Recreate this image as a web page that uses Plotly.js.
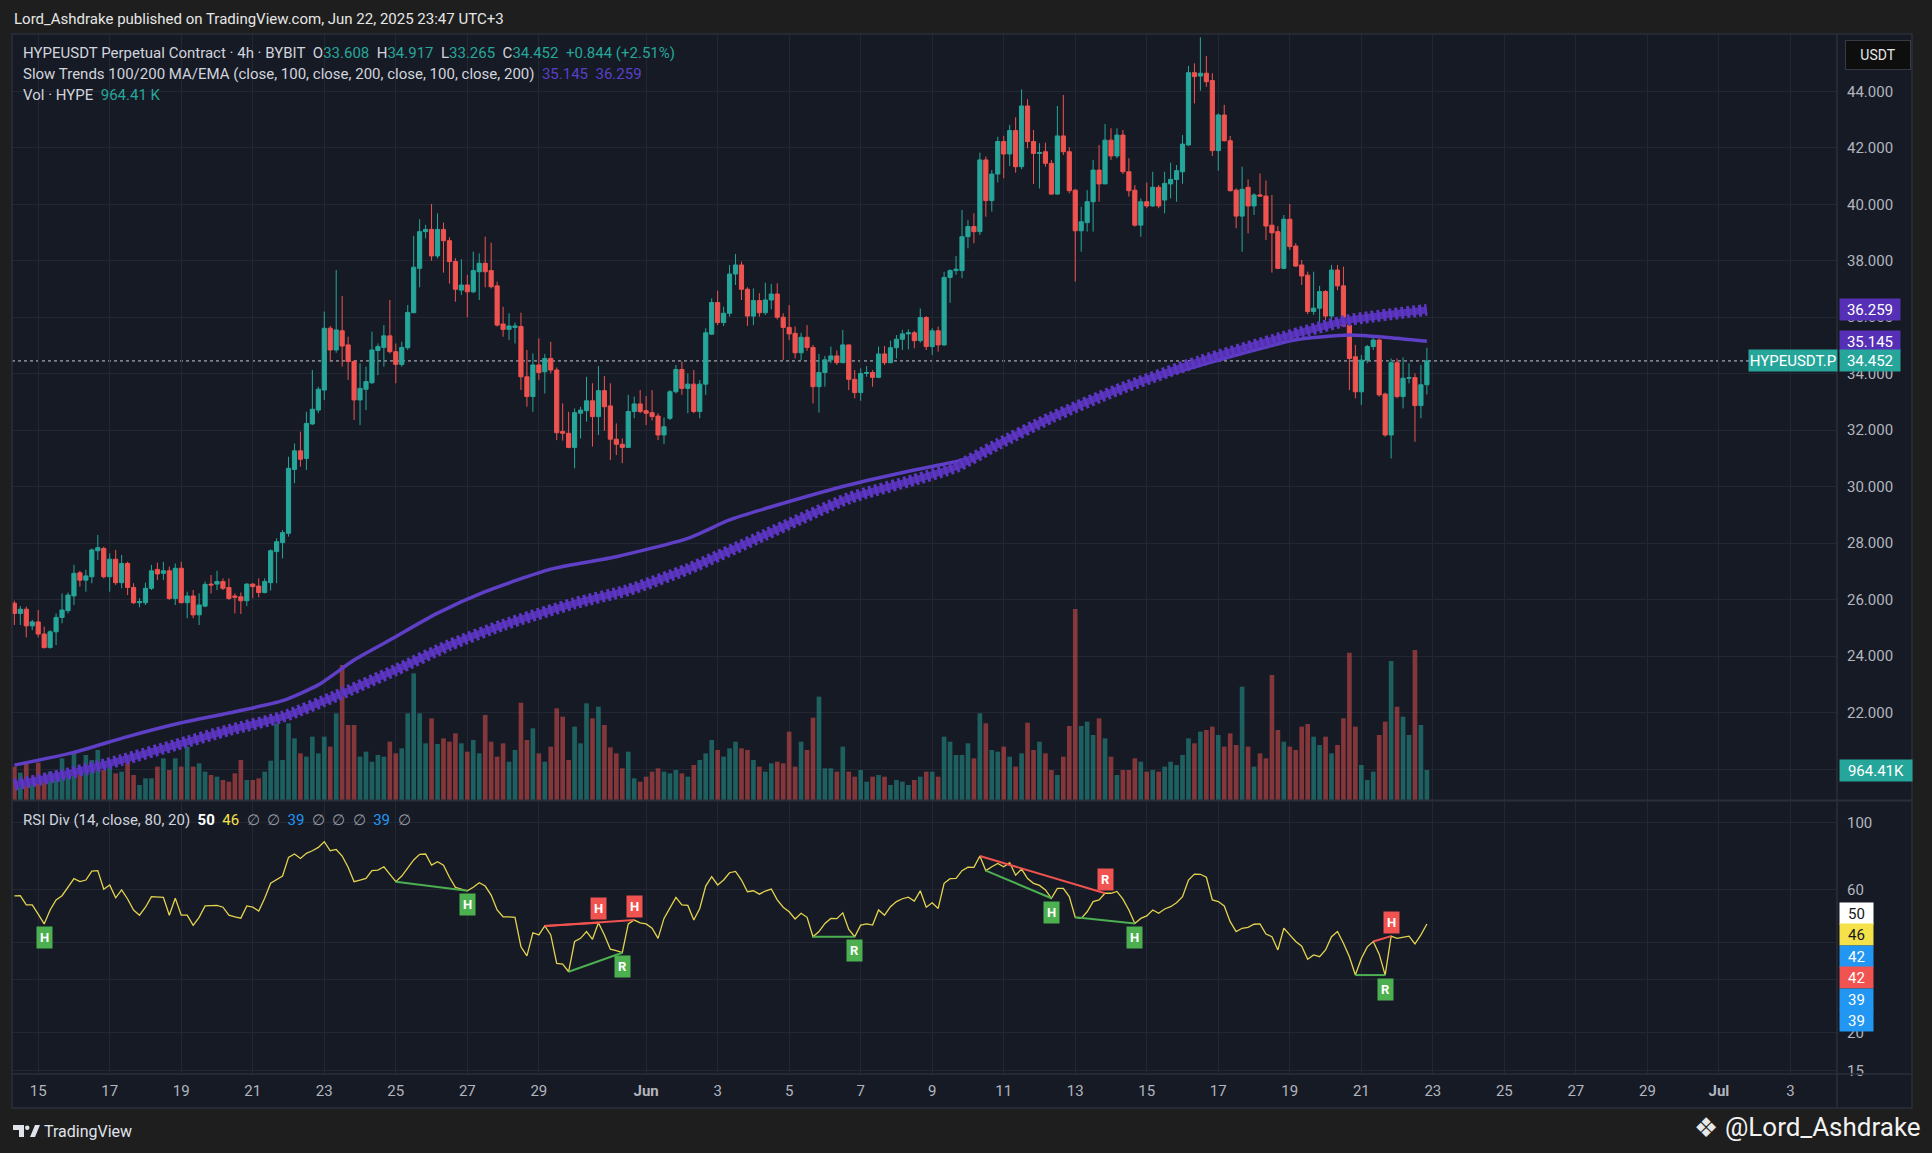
<!DOCTYPE html>
<html><head><meta charset="utf-8">
<script src="https://cdn.plot.ly/plotly-3.0.1.min.js"></script>
<style>html,body{margin:0;padding:0;background:#1e1e1e;}#chart{width:1932px;height:1153px;}</style>
</head><body><div id="chart"></div>
<script>
// ================= DATA =================
const symbol = 'HYPEUSDT';
const firstBarUTC = Date.UTC(2025, 4, 14, 8, 0, 0);
const barHours = 4;

const open = [
25.87,25.51,25.66,25.07,25.21,24.78,24.30,24.86,25.37,25.61,
26.13,26.95,26.69,26.81,27.73,27.81,26.81,27.43,26.60,27.28,
26.43,25.89,25.89,26.40,27.07,26.93,27.02,26.04,27.11,25.89,
26.13,25.46,25.77,26.55,26.55,26.64,26.43,26.13,26.10,25.96,
26.55,26.48,26.25,26.60,27.70,28.02,28.35,30.61,31.27,31.00,
32.22,32.71,33.42,35.61,34.84,35.52,35.02,34.43,33.07,33.45,
33.68,34.82,34.93,35.34,34.78,34.33,34.92,36.16,37.73,39.03,
39.11,38.17,39.11,38.71,37.97,36.96,37.14,36.90,37.61,37.91,
37.65,37.11,35.76,35.57,35.64,35.67,33.89,33.19,34.31,34.07,
34.54,34.13,31.95,31.89,31.39,32.60,32.69,33.04,32.48,33.40,
32.86,31.68,31.50,31.39,32.66,32.93,32.69,32.62,32.50,31.83,
32.42,33.36,34.15,33.48,33.63,32.66,33.63,35.40,36.52,35.81,
36.14,37.53,37.85,36.99,36.04,36.59,36.16,36.61,36.82,36.00,
35.64,35.43,34.74,35.29,34.93,33.54,34.04,34.49,34.63,34.39,
35.02,33.80,33.33,34.01,34.04,33.87,34.70,34.39,34.92,35.22,
35.41,35.45,35.17,35.99,34.96,35.52,35.02,37.41,37.65,37.65,
38.85,39.21,39.03,41.57,40.13,41.07,42.22,41.78,42.61,41.33,
43.48,42.22,41.80,41.86,41.45,40.36,42.42,41.86,40.50,39.06,
39.35,40.09,41.21,40.72,42.27,41.71,42.45,41.15,40.50,39.26,
40.09,39.94,40.60,40.15,40.72,40.88,41.15,42.10,44.66,44.54,
44.64,44.38,41.90,43.16,42.25,40.50,39.58,40.60,39.94,40.33,
40.29,39.26,39.03,37.73,39.47,38.52,37.85,37.49,36.20,36.32,
36.91,36.04,37.67,37.11,35.72,34.60,33.36,34.48,34.96,35.19,
33.28,31.83,34.39,33.19,33.84,33.86,32.87,33.608];

const high = [
25.96,25.77,25.75,25.28,25.63,25.04,24.92,25.51,26.22,26.25,
27.23,27.02,27.05,27.81,28.29,27.87,27.64,27.76,27.58,27.34,
26.58,26.05,26.60,27.23,27.31,27.34,27.17,27.28,27.34,26.28,
26.34,26.22,26.64,26.87,27.02,26.75,26.75,26.22,26.25,26.58,
26.58,26.75,26.75,27.78,28.17,28.46,31.06,31.53,31.95,32.65,
34.13,33.54,36.20,35.69,37.67,36.75,35.31,34.49,34.37,34.25,
35.49,35.07,35.72,36.61,35.07,35.13,36.43,38.88,39.47,39.27,
40.01,39.68,39.35,38.83,38.09,38.05,37.50,38.32,38.26,38.85,
38.64,37.26,36.37,36.14,35.81,36.16,34.84,34.72,35.25,34.70,
35.13,34.22,32.95,32.65,32.77,32.83,33.89,33.66,34.27,33.92,
33.66,32.24,31.71,33.25,33.19,33.42,33.21,33.42,32.60,32.45,
33.42,34.31,34.43,34.01,34.13,33.78,35.61,36.67,36.94,36.37,
37.85,38.24,37.97,37.06,37.02,36.85,37.22,37.18,37.20,36.14,
36.43,35.67,35.45,35.72,35.02,34.70,34.63,34.96,34.82,35.55,
35.02,34.13,34.19,34.27,34.13,34.96,34.98,35.17,35.37,35.55,
35.57,35.52,36.31,36.04,35.61,35.67,37.61,37.70,38.17,39.80,
39.44,39.68,41.83,41.69,41.21,42.39,42.42,42.81,43.08,44.07,
43.72,42.63,42.16,42.18,41.57,43.48,43.87,42.02,40.53,39.91,
40.50,41.57,42.10,42.84,42.69,42.69,42.63,41.63,40.68,40.21,
40.77,41.15,40.68,41.15,41.47,41.39,42.45,44.90,44.99,45.91,
45.25,44.64,43.22,43.52,42.42,40.56,41.33,40.88,40.39,41.09,
40.84,40.33,39.23,39.62,40.01,38.62,38.03,37.61,37.61,37.11,
36.96,37.85,37.85,37.79,35.81,35.02,34.66,35.02,35.31,35.25,
33.33,34.54,34.54,34.58,34.37,34.01,34.31,34.917];

const low = [
25.10,25.10,24.66,24.92,24.66,24.27,24.27,24.39,25.16,25.51,
25.81,26.46,26.28,26.58,27.40,26.75,26.28,26.52,26.40,26.16,
25.84,25.73,25.81,26.34,26.69,26.69,25.99,25.81,25.87,25.34,
25.34,25.10,25.73,26.22,26.34,26.34,25.99,25.51,25.49,25.77,
26.05,26.08,26.22,26.32,26.58,27.46,28.23,30.12,30.71,30.59,
32.18,32.60,33.07,34.43,34.74,34.25,33.78,32.36,32.18,32.71,
33.63,33.95,34.25,34.72,33.66,34.25,34.84,36.14,37.06,38.79,
38.00,38.08,37.58,37.19,36.55,36.79,36.00,36.85,36.61,37.06,
37.02,35.67,35.31,35.19,35.07,33.42,32.83,32.65,33.78,33.30,
34.01,31.65,31.63,31.36,30.65,31.71,32.30,31.42,31.83,31.98,
30.94,31.12,30.83,31.39,32.42,32.60,32.18,32.34,31.65,31.51,
32.36,33.30,33.25,32.60,32.60,32.42,33.25,35.37,35.72,35.69,
36.02,37.14,36.61,35.69,35.72,36.02,36.08,36.28,35.92,34.48,
35.19,34.54,34.48,34.81,32.95,32.62,33.54,34.37,34.31,34.37,
33.42,33.13,33.04,33.89,33.54,33.84,34.31,34.37,34.54,34.84,
34.86,34.90,35.10,34.84,34.66,34.78,34.98,36.51,37.50,37.38,
38.44,38.62,38.91,39.56,39.74,40.77,40.92,41.35,41.12,41.24,
41.98,40.72,40.56,41.33,40.33,40.33,41.74,40.39,37.26,38.32,
39.03,39.03,40.09,40.72,41.57,41.63,41.07,40.27,39.21,38.85,
39.86,39.91,39.86,39.68,40.21,40.09,40.72,42.06,43.57,44.02,
44.16,41.71,41.19,42.22,40.45,39.15,38.32,38.97,39.62,40.27,
38.73,37.58,37.70,37.70,38.38,37.79,37.14,36.11,36.08,35.78,
35.90,35.61,36.96,35.66,33.42,33.13,32.89,34.37,34.84,33.19,
31.77,31.00,33.13,32.77,33.66,31.59,32.42,33.265];

const close = [
25.51,25.66,25.07,25.21,24.78,24.30,24.86,25.37,25.63,26.16,
26.93,26.69,26.84,27.76,27.84,26.81,27.43,26.60,27.28,26.43,
25.89,25.93,26.40,27.02,26.91,27.02,26.04,27.11,25.89,26.13,
25.46,25.81,26.54,26.52,26.64,26.40,26.04,26.08,25.96,26.55,
26.46,26.25,26.64,27.73,28.05,28.37,30.65,31.27,30.97,32.24,
32.74,33.45,35.61,34.84,35.55,34.98,34.43,33.07,33.48,33.72,
34.84,34.96,35.34,34.78,34.33,34.93,36.17,37.77,39.03,39.11,
38.17,39.11,38.71,37.97,36.99,37.14,36.90,37.65,37.91,37.61,
37.08,35.72,35.57,35.69,35.69,33.89,33.19,34.31,34.04,34.54,
34.13,31.91,31.89,31.39,32.62,32.71,33.04,32.48,33.40,32.83,
31.68,31.50,31.39,32.66,32.93,32.66,32.60,32.48,31.83,32.12,
33.36,34.15,33.48,33.63,32.66,33.63,35.45,36.52,35.81,36.14,
37.53,37.85,36.99,36.04,36.59,36.16,36.61,36.82,36.00,35.64,
35.41,34.74,35.29,34.93,33.54,34.04,34.49,34.63,34.39,35.02,
33.80,33.33,34.01,34.04,33.87,34.70,34.39,34.92,35.22,35.41,
35.45,35.17,35.99,34.96,35.52,35.02,37.41,37.65,37.70,38.85,
39.21,39.03,41.57,40.13,41.07,42.22,41.78,42.61,41.33,43.48,
42.22,41.80,41.83,41.45,40.36,42.42,41.86,40.48,39.06,39.38,
40.09,41.21,40.72,42.27,41.71,42.45,41.15,40.48,39.26,40.09,
39.94,40.60,39.94,40.74,40.88,41.19,42.13,44.66,44.52,44.64,
44.34,41.90,43.16,42.25,40.48,39.58,40.53,39.94,40.33,40.29,
39.23,38.99,37.73,39.47,38.50,37.81,37.46,36.20,36.32,36.91,
36.04,37.67,37.11,35.69,34.54,33.36,34.48,34.96,35.19,33.25,
31.83,34.39,33.19,33.84,33.86,32.87,33.608,34.452];

const volumeK = [
1072,879,1179,697,1200,750,911,750,1340,857,
1500,964,1447,1286,1607,964,1179,857,911,1393,
804,482,697,697,1072,1340,964,1340,1072,1715,
1072,1179,911,804,750,643,589,857,1286,643,
643,697,911,1264,2465,1286,2465,1982,1500,1393,
2036,1500,2036,1715,2786,4340,2411,2411,1393,1554,
1232,1447,1393,1875,1500,1661,2786,4072,2786,1822,
2625,1800,1982,1875,2143,1822,1554,1929,1500,2733,
1875,1393,1822,1232,1607,3129,1929,2304,1500,1232,
1715,2947,2679,1286,2358,1822,3108,2625,3000,2411,
1693,1500,1018,1554,697,589,750,911,1018,911,
857,964,857,750,1125,1286,1500,1929,1607,1393,
1661,1875,1661,1607,1286,1072,911,1179,1232,1179,
2197,1072,1875,1607,2647,3322,1018,1018,911,1715,
911,750,964,589,750,804,750,482,643,589,
482,643,750,911,911,750,2036,1875,1447,1447,
1822,1340,2786,2465,1607,1554,1715,1393,1072,1500,
2486,1607,1875,1500,964,804,1393,2379,6140,2379,
2518,2090,2625,1982,1393,804,964,964,1340,1232,
911,964,911,1072,1232,1125,1447,1982,1822,2197,
2250,2358,2090,1715,2143,1768,3643,1715,1072,1500,
1340,4019,2250,1875,1715,1607,2358,2443,2036,1768,
2036,1500,1768,2625,4736,2358,1125,643,911,2090,
2518,4469,3000,2679,2090,4822,2411,964.41];

const rsi = [
57.0,57.1,53.2,53.2,49.6,46.0,51.2,55.3,57.1,60.7,
65.1,63.6,64.4,69.0,69.2,60.0,62.0,56.2,59.7,55.7,
51.2,49.2,52.3,56.7,56.7,56.4,49.2,56.0,49.2,49.2,
45.5,48.4,52.8,52.8,53.0,52.3,49.2,48.6,48.1,52.8,
52.3,50.8,56.0,62.8,64.4,66.4,76.6,78.6,76.0,79.0,
80.6,82.7,86.4,80.6,81.4,77.4,71.0,63.6,64.4,65.2,
69.2,69.5,71.3,67.4,63.6,66.4,70.8,75.1,78.4,78.6,
72.2,74.1,72.2,65.8,60.9,60.0,59.3,60.9,63.1,61.5,
57.4,51.2,48.6,48.6,48.4,38.6,36.0,43.0,42.3,45.3,
42.3,34.0,33.8,31.9,40.2,41.2,43.4,40.9,46.4,42.3,
37.9,37.5,36.9,46.0,47.4,46.4,46.0,44.5,41.2,48.0,
52.3,56.4,53.2,53.0,47.4,51.8,61.5,66.1,62.0,64.4,
68.1,68.8,64.4,58.9,59.3,57.8,59.2,60.1,55.3,52.3,
50.5,47.8,49.9,48.4,41.7,43.4,46.2,48.0,47.9,50.1,
44.1,41.7,45.6,46.0,45.6,51.2,49.2,52.5,54.6,55.8,
56.5,54.8,59.3,52.3,54.1,51.8,62.8,65.1,65.2,69.2,
71.1,71.0,77.4,69.2,71.3,73.1,71.3,73.5,66.8,70.0,
65.1,62.8,61.8,59.7,56.0,60.4,60.4,56.7,48.4,48.0,
50.5,54.6,55.3,58.2,58.2,59.0,55.6,51.2,46.2,48.0,
48.9,51.2,49.9,51.6,52.5,54.1,56.7,64.4,67.4,67.3,
65.8,55.3,54.6,52.8,46.8,43.4,44.5,44.8,45.9,46.0,
42.6,41.7,37.7,44.5,42.3,40.2,38.8,35.1,36.3,35.8,
37.7,41.7,43.4,39.7,35.8,31.1,35.3,38.6,40.2,36.5,
31.1,41.9,41.2,41.5,41.9,39.5,42.3,46.0];

// Slow Trends: thin line (100) and thick cross line (200), read at these bar indices
const trendAIdx = [0,10,19,28,37,45,51,57,63,71,79,90,101,113,120,128,140,151,159,163,173,184,194,204,215,224,230,237];
const trendA    = [20.14,20.59,21.15,21.64,22.03,22.42,22.98,23.86,24.57,25.52,26.28,27.08,27.52,28.17,28.82,29.35,30.06,30.59,30.94,31.22,32.40,33.35,34.00,34.60,35.20,35.37,35.29,35.145];
const trendBIdx = [0,8,18,27,36,45,54,64,73,82,94,103,113,126,140,151,158,165,174,185,199,213,224,237];
const trendB    = [19.44,19.79,20.32,20.85,21.38,21.85,22.59,23.51,24.39,25.10,25.87,26.34,27.08,28.30,29.59,30.24,30.70,31.50,32.45,33.42,34.45,35.30,35.90,36.259];

// RSI divergences: start bar, end bar, label, bullish?
const divFrom = [64, 89, 89, 93, 134, 162, 163, 178, 225, 228];
const divTo   = [76, 98, 104, 102, 141, 183, 174, 188, 230, 231];
const divKind = ['H','H','H','R','R','R','H','H','R','H'];
const divBull = [true,false,false,true,true,false,true,true,true,false];
const loneLabelIdx = [5], loneLabelKind = ['H'], loneLabelBull = [true];

const rsiMid = 50, rsiUpper = 80, rsiLower = 20;
const rsiOtherPlots = [null, null, 39, null, null, null, 39, null];
const rsiSideValues = [50, 46, 42, 42, 39, 39];
const rsiSideColors = ['#ffffff', '#f5e14a', '#2196f3', '#f05350', '#2196f3', '#2196f3'];
const rsiSideText   = ['#131722', '#131722', '#ffffff', '#ffffff', '#ffffff', '#ffffff'];

const priceTicks = [20,22,24,26,28,30,32,34,36,38,40,42,44];
const priceTickText = ['','22.000','24.000','26.000','28.000','30.000','32.000','34.000','36.000','38.000','40.000','42.000','44.000'];
const rsiTicks = [15,20,30,40,60,100];
const rsiTickText = ['15','20','','','60','100'];
const dateTickVals = ['2025-05-15','2025-05-17','2025-05-19','2025-05-21','2025-05-23','2025-05-25','2025-05-27','2025-05-29',
  '2025-06-01','2025-06-03','2025-06-05','2025-06-07','2025-06-09','2025-06-11','2025-06-13','2025-06-15','2025-06-17','2025-06-19',
  '2025-06-21','2025-06-23','2025-06-25','2025-06-27','2025-06-29','2025-07-01','2025-07-03'];
const dateTickText = ['15','17','19','21','23','25','27','29','<b>Jun</b>','3','5','7','9','11','13','15','17','19','21','23','25','27','29','<b>Jul</b>','3'];

// ================= BUILD =================
const times = open.map((_, i) => new Date(firstBarUTC + i * barHours * 3600e3).toISOString().slice(0,16).replace('T',' '));
const last = close.length - 1;

const PL = 12, PR = 1837, PT = 34, PB = 1074;
const fx = p => (p - PL) / (PR - PL);
const fy = p => (PB - p) / (PB - PT);
const L10 = Math.log10;

const BG = '#161a25', GRID = '#232733', SEP = '#2b2f3a';
const UP = '#26a69a', DN = '#ef5350', TXT = '#d1d4dc', AX = '#b2b5be';
const FONT = 'Roboto, "Open Sans", sans-serif';

const traces = [];
// volume (base axis y, drawn underneath)
traces.push({
  type: 'bar', x: times, y: volumeK, xaxis: 'x', yaxis: 'y',
  width: barHours * 3600e3 * 0.78,
  marker: { color: close.map((c, i) => c >= open[i] ? 'rgba(38,166,154,0.5)' : 'rgba(239,83,80,0.5)'), line: { width: 0 } },
  hoverinfo: 'skip', showlegend: false
});
// thin trend line
traces.push({
  type: 'scatter', mode: 'lines', x: trendAIdx.map(i => times[i]), y: trendA, xaxis: 'x', yaxis: 'y3',
  line: { color: '#5e3fc6', width: 3.5, shape: 'spline', smoothing: 0.6 }, hoverinfo: 'skip', showlegend: false
});
// thick cross-style line (core + cross teeth)
traces.push({
  type: 'scatter', mode: 'lines', x: trendBIdx.map(i => times[i]), y: trendB, xaxis: 'x', yaxis: 'y3',
  line: { color: '#5230b0', width: 7, shape: 'spline', smoothing: 0.6 }, hoverinfo: 'skip', showlegend: false
});
traces.push({
  type: 'scatter', mode: 'lines', x: trendBIdx.map(i => times[i]), y: trendB, xaxis: 'x', yaxis: 'y3',
  line: { color: '#5d37c4', width: 12, dash: '3px,3px', shape: 'spline', smoothing: 0.6 }, hoverinfo: 'skip', showlegend: false
});
// candles
traces.push({
  type: 'candlestick', x: times, open: open, high: high, low: low, close: close, xaxis: 'x', yaxis: 'y3',
  increasing: { line: { color: UP, width: 1 }, fillcolor: UP },
  decreasing: { line: { color: DN, width: 1 }, fillcolor: DN },
  whiskerwidth: 0, hoverinfo: 'skip', showlegend: false
});
// RSI
traces.push({
  type: 'scatter', mode: 'lines', x: times, y: rsi, xaxis: 'x', yaxis: 'y2',
  line: { color: '#e3d34f', width: 1.3 }, hoverinfo: 'skip', showlegend: false
});
// divergence lines
for (let k = 0; k < divFrom.length; k++) {
  traces.push({
    type: 'scatter', mode: 'lines', x: [times[divFrom[k]], times[divTo[k]]], y: [rsi[divFrom[k]], rsi[divTo[k]]],
    xaxis: 'x', yaxis: 'y2', line: { color: divBull[k] ? '#4caf50' : '#f05350', width: 2 }, hoverinfo: 'skip', showlegend: false
  });
}

// ---------- shapes ----------
const shapes = [
  { type: 'rect', xref: 'paper', yref: 'paper', x0: fx(12), x1: fx(1912), y0: fy(1108), y1: fy(34), fillcolor: BG, line: { width: 0 }, layer: 'below' },
  { type: 'rect', xref: 'paper', yref: 'y2', x0: 0, x1: 1, y0: L10(rsiLower), y1: L10(rsiUpper), fillcolor: '#1d202c', line: { width: 0 }, layer: 'below' },
  { type: 'line', xref: 'paper', yref: 'y2', x0: 0, x1: 1, y0: L10(rsiUpper), y1: L10(rsiUpper), line: { color: '#6a6d78', width: 1, dash: '5px,4px' }, layer: 'below' },
  { type: 'line', xref: 'paper', yref: 'y2', x0: 0, x1: 1, y0: L10(rsiLower), y1: L10(rsiLower), line: { color: '#6a6d78', width: 1, dash: '5px,4px' }, layer: 'below' },
  { type: 'line', xref: 'x', yref: 'y2', x0: times[0], x1: times[last], y0: L10(rsiMid), y1: L10(rsiMid), line: { color: '#d8dbe2', width: 2 }, layer: 'below' },
  { type: 'line', xref: 'paper', yref: 'y3', x0: 0, x1: 1, y0: close[last], y1: close[last], line: { color: '#c9ccd4', width: 1, dash: 'dot' }, layer: 'below' },
  // separators & frame
  { type: 'line', xref: 'paper', yref: 'paper', x0: fx(12), x1: fx(1912), y0: fy(800.5), y1: fy(800.5), line: { color: SEP, width: 2 }, layer: 'above' },
  { type: 'line', xref: 'paper', yref: 'paper', x0: fx(12), x1: fx(1912), y0: fy(1074), y1: fy(1074), line: { color: SEP, width: 1.5 }, layer: 'above' },
  { type: 'line', xref: 'paper', yref: 'paper', x0: fx(1837), x1: fx(1837), y0: fy(34), y1: fy(1108), line: { color: SEP, width: 1.5 }, layer: 'above' },
  { type: 'rect', xref: 'paper', yref: 'paper', x0: fx(12), x1: fx(1912), y0: fy(1108), y1: fy(34), line: { color: SEP, width: 1.5 }, layer: 'above' }
];
// TradingView logo mark (bottom-left)
function pth(pts) { return 'M ' + pts.map(p => fx(p[0]) + ',' + fy(p[1])).join(' L ') + ' Z'; }
shapes.push({ type: 'path', xref: 'paper', yref: 'paper', path: pth([[13,1125],[24,1125],[24,1137],[19,1137],[19,1130],[13,1130]]), fillcolor: '#e0e3eb', line: { width: 0 }, layer: 'above' });
shapes.push({ type: 'circle', xref: 'paper', yref: 'paper', x0: fx(25), x1: fx(29.5), y0: fy(1130), y1: fy(1125.5), fillcolor: '#e0e3eb', line: { width: 0 }, layer: 'above' });
shapes.push({ type: 'path', xref: 'paper', yref: 'paper', path: pth([[30,1137],[35,1125],[40,1125],[35,1137]]), fillcolor: '#e0e3eb', line: { width: 0 }, layer: 'above' });

// ---------- annotations ----------
const sp = (c, t) => `<span style="color:${c}">${t}</span>`;
const NB = '\u00A0';
const chg = close[last] - close[last - 1];
const pct = chg / close[last - 1] * 100;
const sgn = v => (v >= 0 ? '+' : '');
const line1 = `${symbol} Perpetual Contract · 4h · BYBIT${NB}${NB}O${sp(UP, open[last].toFixed(3))}${NB}${NB}H${sp(UP, high[last].toFixed(3))}${NB}${NB}L${sp(UP, low[last].toFixed(3))}${NB}${NB}C${sp(UP, close[last].toFixed(3))}${NB}${NB}${sp(UP, sgn(chg) + chg.toFixed(3) + ' (' + sgn(pct) + pct.toFixed(2) + '%)')}`;
const line2 = `Slow Trends 100/200 MA/EMA (close, 100, close, 200, close, 100, close, 200)${NB}${NB}${sp('#5a40c8', trendA[trendA.length-1].toFixed(3))}${NB}${NB}${sp('#5a40c8', trendB[trendB.length-1].toFixed(3))}`;
const line3 = `Vol · HYPE${NB}${NB}${sp(UP, volumeK[last].toFixed(2) + ' K')}`;
const rsiLegend = `RSI Div (14, close, ${rsiUpper}, ${rsiLower})${NB}${NB}${sp('#ffffff', '<b>' + rsiMid + '</b>')}${NB}${NB}${sp('#f5e14a', Math.round(rsi[last]))}` +
  rsiOtherPlots.map(v => NB + NB + (v === null ? sp('#9598a1', '∅') : sp('#2196f3', v))).join('');

const ann = [];
const A = (o) => ann.push(Object.assign({ showarrow: false, xref: 'paper', yref: 'paper', xanchor: 'left', yanchor: 'middle', font: { family: FONT, size: 15, color: TXT } }, o));

A({ x: fx(12), y: fy(19), text: 'Lord_Ashdrake published on TradingView.com, Jun 22, 2025 23:47 UTC+3', font: { family: FONT, size: 15, color: '#e6e6e6' } });
A({ x: fx(21), y: fy(53), text: line1 });
A({ x: fx(21), y: fy(74), text: line2 });
A({ x: fx(21), y: fy(95), text: line3 });
A({ x: fx(21), y: fy(820), text: rsiLegend });

// right axis labels
A({ x: fx(1845), y: fy(54.5), text: 'USDT', bgcolor: '#0e0e0e', bordercolor: '#363a45', borderwidth: 1, borderpad: 0, width: 64, height: 28, align: 'center', font: { family: FONT, size: 14, color: '#e6e6e6' } });
const boxLbl = (yref, yv, text, bg, w) => A({ x: fx(1839), xref: 'paper', yref: yref, y: yv, text: text, bgcolor: bg, borderpad: 0, width: w, height: 21, align: 'center', font: { family: FONT, size: 15, color: '#ffffff' } });
boxLbl('y3', trendB[trendB.length-1], trendB[trendB.length-1].toFixed(3), '#5530b6', 60);
boxLbl('y3', trendA[trendA.length-1], trendA[trendA.length-1].toFixed(3), '#5530b6', 60);
boxLbl('y3', close[last], close[last].toFixed(3), UP, 60);
boxLbl('y', volumeK[last], volumeK[last].toFixed(2) + 'K', UP, 72);
A({ x: fx(1838), xanchor: 'right', yref: 'y3', y: close[last], text: symbol + '.P', bgcolor: UP, borderpad: 0, width: 88, height: 21, align: 'center', font: { family: FONT, size: 15, color: '#ffffff' } });

rsiSideValues.forEach((v, k) => A({ x: fx(1839), yref: 'y2', y: L10(rsiSideValues[0]), yshift: -21.5 * k, text: String(v), bgcolor: rsiSideColors[k], borderpad: 0, width: 33, height: 21, align: 'center', font: { family: FONT, size: 15, color: rsiSideText[k] } }));

// divergence labels
const divLabel = (idx, kind, bull) => A({ xref: 'x', yref: 'y2', x: times[idx], y: L10(rsi[idx]), xanchor: 'center', yshift: bull ? -14 : 14, text: '<b>' + kind + '</b>', bgcolor: bull ? '#4caf50' : '#f05350', borderpad: 0, width: 15, height: 21, align: 'center', font: { family: FONT, size: 13, color: '#ffffff' } });
for (let k = 0; k < divFrom.length; k++) divLabel(divTo[k], divKind[k], divBull[k]);
loneLabelIdx.forEach((idx, k) => divLabel(idx, loneLabelKind[k], loneLabelBull[k]));

// bottom bar
A({ x: fx(42), y: fy(1131), text: 'TradingView', font: { family: FONT, size: 16, color: '#e0e3eb' } });
A({ x: fx(1692), y: fy(1127), text: '❖', font: { family: 'DejaVu Sans', size: 27, color: '#e8e8e8' } });
A({ x: fx(1723), y: fy(1127), text: '@Lord_Ashdrake', font: { family: FONT, size: 26, color: '#f2f2f2' } });

const layout = {
  width: 1932, height: 1153,
  margin: { l: PL, r: 1932 - PR, t: PT, b: 1153 - PB, pad: 0 },
  paper_bgcolor: '#1e1e1e', plot_bgcolor: BG,
  showlegend: false, boxgap: 0.3, boxgroupgap: 0,
  font: { family: FONT, color: AX, size: 15 },
  xaxis: {
    type: 'date', anchor: 'y2', range: ['2025-05-14 06:25', '2025-07-04 07:15'],
    tickmode: 'array', tickvals: dateTickVals, ticktext: dateTickText,
    showgrid: true, gridcolor: GRID, gridwidth: 1, zeroline: false, showline: false, ticks: '',
    tickfont: { family: FONT, size: 15, color: AX }, ticklabelstandoff: 6,
    rangeslider: { visible: false }, fixedrange: true
  },
  yaxis: { domain: [fy(800), 1], range: [0, 24625], visible: false, showgrid: false, zeroline: false, fixedrange: true },
  yaxis3: {
    overlaying: 'y', side: 'right', anchor: 'x', range: [18.904, 46.029],
    tickmode: 'array', tickvals: priceTicks, ticktext: priceTickText,
    showgrid: true, gridcolor: GRID, zeroline: false, showline: false, ticks: '',
    tickfont: { family: FONT, size: 15, color: AX }, ticklabelstandoff: 9, fixedrange: true
  },
  yaxis2: {
    domain: [0, fy(801)], type: 'log', side: 'right', anchor: 'x', range: [1.1636, 2.0718],
    tickmode: 'array', tickvals: rsiTicks, ticktext: rsiTickText,
    showgrid: true, gridcolor: GRID, zeroline: false, showline: false, ticks: '',
    tickfont: { family: FONT, size: 15, color: AX }, ticklabelstandoff: 9, fixedrange: true
  },
  shapes: shapes,
  annotations: ann
};

Plotly.newPlot('chart', traces, layout, { staticPlot: true, displayModeBar: false });
</script>
</body></html>
